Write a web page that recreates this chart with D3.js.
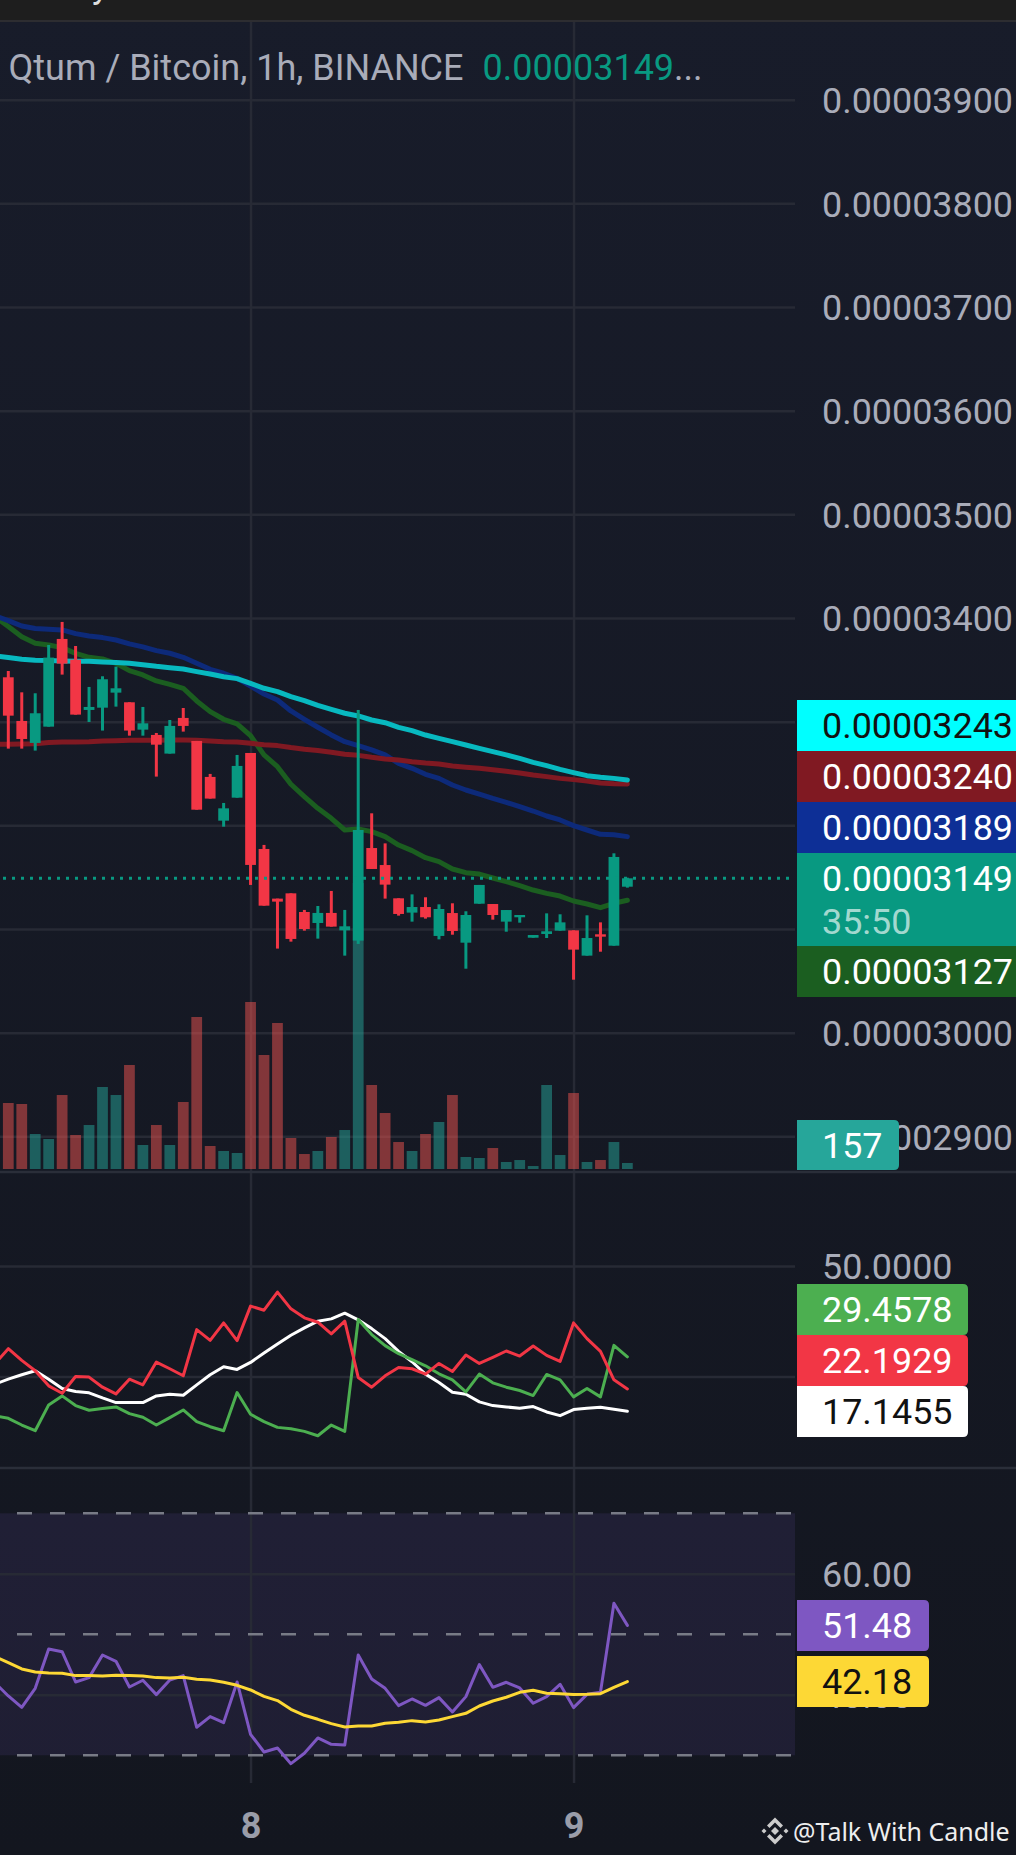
<!DOCTYPE html>
<html>
<head>
<meta charset="utf-8">
<script src="https://cdn.jsdelivr.net/npm/d3@7"></script>
<style>
  html, body { margin: 0; padding: 0; background: #141823; }
  svg { display: block; background: linear-gradient(#181c2a, #13161f); }
  text { font-family: Roboto, sans-serif; }
</style>
</head>
<body>
<script>
// prices are in 1e-8 BTC (satoshi), index 0 = first candle on screen
var opens  = [3342.8,3300.7,3279.5,3295.2,3379.8,3359.8,3311.3,3313.5,3328.0,3318.7,3292.3,3287.2,3269.2,3303.6,3281.4,3246.7,3204.5,3226.7,3269.8,3177.2,3129.3,3134.4,3116.4,3105.8,3115.5,3098.7,3088.8,3178.1,3161.7,3129.6,3115.8,3121.2,3093.3,3115.4,3086.8,3124.4,3124.1,3107.1,3111.3,3091.6,3095.2,3098.4,3098.7,3074.3,3094.9,3083.9,3140.8];
var highs  = [3348.9,3328.3,3327.4,3374.0,3396.2,3373.0,3333.5,3343.8,3353.1,3318.7,3314.2,3289.1,3301.6,3313.2,3281.4,3249.6,3221.6,3267.9,3269.8,3181.1,3129.3,3134.4,3118.4,3122.2,3136.7,3118.4,3311.3,3211.6,3182.6,3129.6,3133.4,3130.6,3123.8,3124.8,3117.1,3142.5,3124.1,3118.3,3113.5,3094.2,3115.1,3114.2,3098.7,3113.2,3106.4,3173.0,3149.5];
var lows   = [3274.0,3274.0,3272.1,3295.2,3345.4,3306.8,3299.7,3291.4,3314.5,3286.5,3286.5,3247.0,3269.2,3290.4,3215.1,3225.8,3198.7,3226.7,3142.5,3122.5,3081.1,3087.8,3098.4,3090.7,3102.3,3074.3,3085.6,3157.9,3129.3,3112.9,3107.1,3110.0,3090.0,3094.5,3061.7,3124.4,3109.0,3097.4,3106.1,3091.6,3091.3,3098.4,3051.1,3074.3,3078.1,3083.9,3139.9];
var closes = [3305.8,3283.3,3308.1,3361.8,3356.0,3306.8,3314.2,3340.9,3332.2,3291.4,3298.4,3277.8,3295.9,3295.9,3215.1,3225.8,3216.4,3257.3,3161.8,3122.5,3126.4,3090.4,3100.0,3115.5,3102.3,3102.6,3195.5,3157.9,3142.8,3114.5,3121.2,3111.3,3119.3,3098.1,3113.5,3142.5,3113.5,3118.3,3113.5,3094.2,3097.8,3106.4,3080.1,3091.3,3092.6,3169.5,3148.9];
var volumes = [1727,1701,916,785,1936,890,1151,2146,1936,2721,628,1151,628,1753,3977,602,471,419,4370,2983,3820,811,392,471,837,1020,7483,2198,1465,706,471,916,1230,1936,314,288,549,183,235,78,2198,366,1988,183,235,706,157];

// indicator lines start one hour earlier than the candles (index -1)
var maGreen  = [3401.3,3391.7,3382.0,3375.6,3374.0,3371.4,3365.9,3362.1,3360.5,3356.3,3349.2,3345.1,3339.3,3336.0,3332.2,3320.0,3309.7,3302.3,3297.8,3286.5,3267.9,3256.6,3239.6,3227.7,3216.4,3206.8,3195.5,3196.5,3193.9,3189.1,3181.0,3175.6,3168.8,3165.0,3157.9,3154.3,3153.0,3149.2,3145.7,3141.8,3137.6,3134.4,3131.8,3127.0,3124.1,3120.6,3124.8,3127.7];
var maBlue   = [3402.0,3397.5,3392.3,3389.8,3389.1,3388.5,3384.9,3382.7,3381.1,3378.8,3375.0,3372.1,3368.5,3366.0,3362.1,3356.3,3350.5,3346.7,3341.8,3334.4,3326.7,3320.9,3310.3,3302.3,3294.6,3287.2,3280.7,3276.9,3272.7,3267.9,3259.8,3255.0,3249.2,3245.3,3238.9,3234.1,3230.2,3226.0,3222.2,3218.0,3213.8,3209.0,3205.2,3199.7,3195.5,3191.3,3191.0,3189.1];
var maCyan   = [3363.4,3361.8,3360.2,3359.2,3358.9,3358.6,3358.2,3358.2,3357.6,3357.0,3356.3,3355.0,3353.4,3352.1,3350.8,3348.3,3346.0,3343.4,3341.5,3337.0,3332.2,3329.0,3324.2,3320.3,3315.8,3311.9,3308.1,3305.5,3301.6,3299.0,3294.5,3291.3,3287.1,3283.9,3280.7,3277.5,3274.3,3271.1,3267.9,3264.6,3260.8,3257.6,3254.0,3250.8,3247.9,3246.3,3245.3,3243.7];
var maMaroon = [3278.2,3278.2,3278.5,3278.8,3279.8,3280.4,3280.4,3280.7,3281.4,3281.7,3282.0,3282.0,3282.0,3282.4,3282.4,3282.0,3281.4,3280.7,3280.4,3279.1,3277.8,3276.9,3275.0,3273.4,3272.1,3270.5,3268.5,3267.5,3265.6,3264.0,3263.0,3261.4,3260.1,3259.2,3257.2,3256.0,3255.0,3253.7,3252.1,3250.5,3248.6,3247.0,3245.3,3244.1,3242.8,3240.8,3240.2,3239.9];

var dmiRed   = [27.89,31.3,28.64,26.3,22.89,21.22,25.0,24.86,22.58,21.07,24.4,23.11,28.27,26.75,25.16,35.61,33.19,37.13,33.11,40.92,40.0,44.1,40.31,38.27,37.28,34.63,37.51,24.78,22.58,25.16,27.05,26.75,25.54,27.96,26.14,29.86,27.96,29.33,30.77,29.63,31.9,29.78,28.42,37.13,33.57,30.69,24.25,22.19];
var dmiGreen = [16.14,15.54,14.02,12.73,18.57,20.61,18.42,17.36,17.74,18.11,16.6,15.77,14.02,15.69,17.43,14.78,13.64,12.73,21.37,16.45,14.78,13.49,13.19,12.58,11.6,14.02,12.58,37.89,34.48,31.98,30.16,28.8,27.43,25.61,24.25,21.52,25.54,23.57,22.58,21.83,20.69,25.46,24.25,20.39,22.28,20.39,32.05,29.46];
var dmiWhite = [23.27,24.4,25.39,26.3,24.4,22.28,21.6,21.3,20.16,19.1,19.1,19.1,20.61,20.99,20.77,23.11,25.39,27.2,26.6,28.19,30.31,32.36,34.33,36.0,37.51,38.04,39.33,37.81,35.84,33.57,30.69,28.34,25.54,23.64,21.45,20.99,19.25,18.42,18.11,17.81,18.19,16.98,16.14,17.51,17.81,18.04,17.58,17.15];

var rsiPurple = [42.01,39.81,37.93,41.07,47.58,47.13,42.12,42.84,46.58,45.54,41.29,42.4,40.03,42.45,43.17,34.63,36.39,35.4,42.12,33.47,30.55,31.21,28.62,30.33,32.87,31.82,31.71,46.58,42.62,41.07,38.21,39.31,38.26,39.53,37.16,39.7,44.99,41.24,42.07,41.13,38.6,39.7,41.74,37.88,40.08,40.41,55.12,51.48];
var rsiYellow = [46.31,45.32,44.27,43.77,43.61,43.55,43.17,43.17,43.11,43.22,43.17,43.11,42.84,42.78,42.89,42.56,42.45,42.07,41.57,40.8,39.75,39.04,37.6,36.61,35.95,35.23,34.68,34.85,34.85,35.29,35.45,35.73,35.51,35.84,36.39,36.94,38.15,38.98,39.59,40.41,40.74,40.25,40.19,40.03,40.08,40.19,41.24,42.18];

var priceTicks = [3900,3800,3700,3600,3500,3400,3300,3200,3100,3000,2900];
var dmiTicks   = [50,25];
var rsiTicks   = [60,40];
var rsiDashes  = [70,50,30];
var dayTicks   = [18,42];
var dayLabels  = ["8","9"];
// these tick values sit fully behind the value labels, only the grid line is left
var coveredTicks = [3300,3200,3100,25];

var W = 1016, H = 1855;
var plotRight = 795;
var red = "#f23645", green = "#089981";
var gridColor = "#272a35";
var axisFont = 35.9;

var svg = d3.select("body").append("svg").attr("width", W).attr("height", H);

// scales
var x      = d3.scaleLinear().domain([0,24]).range([8.3,331.3]);
var yPrice = d3.scaleLinear().domain([3400,3100]).range([618,929]);
var yVol   = d3.scaleLinear().domain([0,7483]).range([1169,883]);
var yDmi   = d3.scaleLinear().domain([50,25]).range([1266,1376.5]);
var yRsi   = d3.scaleLinear().domain([70,30]).range([1513.3,1755.3]);

var step = x(1)-x(0);
var bodyW = step*0.8;

// top bar
svg.append("rect").attr("width",W).attr("height",20).attr("fill","#1e1e1e");
svg.append("rect").attr("y",20).attr("width",W).attr("height",2).attr("fill","#2d2d31");
svg.append("text").attr("x",92).attr("y",-3).attr("font-size",36).attr("fill","#dddddd").text("y");

// rsi band
svg.append("rect").attr("x",0).attr("width",plotRight)
   .attr("y",yRsi(70)).attr("height",yRsi(30)-yRsi(70))
   .attr("fill","#7e57c2").attr("fill-opacity",0.12);

// axes + grid
function yAxis(scale, ticks, fmt)
{
  var g = svg.append("g").attr("transform","translate("+plotRight+",0)")
             .call(d3.axisRight(scale).tickValues(ticks)
                     .tickFormat(function(d){ return coveredTicks.indexOf(d)>=0 ? "" : fmt(d); })
                     .tickSizeInner(-plotRight).tickSizeOuter(0).tickPadding(27));
  g.select(".domain").remove();
  g.selectAll("line").attr("stroke",gridColor).attr("stroke-width",2.5);
  g.selectAll("text").attr("fill","#a9acb9").attr("font-size",axisFont).attr("dy",".355em").attr("font-family","Roboto, sans-serif");
}
yAxis(yPrice, priceTicks, function(d){ return (d/1e8).toFixed(8); });
yAxis(yDmi,   dmiTicks,   function(d){ return d.toFixed(4); });
yAxis(yRsi,   rsiTicks,   function(d){ return d.toFixed(2); });

var xAxisG = svg.append("g").attr("transform","translate(0,1783)")
   .call(d3.axisBottom(x).tickValues(dayTicks).tickFormat(function(d,i){ return dayLabels[i]; })
           .tickSizeInner(-1761).tickSizeOuter(0).tickPadding(29));
xAxisG.select(".domain").remove();
xAxisG.selectAll("line").attr("stroke",gridColor).attr("stroke-width",2.5);
xAxisG.selectAll("text").attr("fill","#9a9da9").attr("font-size",36).attr("font-weight",700).attr("font-family","Roboto, sans-serif");

// pane separators
[1172,1468].forEach(function(py){
  svg.append("line").attr("x1",0).attr("x2",W).attr("y1",py).attr("y2",py)
     .attr("stroke","#2a2e39").attr("stroke-width",2.5);
});

// rsi dashed levels
svg.selectAll(".rsiDash").data(rsiDashes).enter().append("line")
   .attr("x1",17).attr("x2",plotRight)
   .attr("y1",function(d){ return yRsi(d); }).attr("y2",function(d){ return yRsi(d); })
   .attr("stroke","#787b86").attr("stroke-width",2.5).attr("stroke-dasharray","15 18");

// volume
svg.selectAll(".vol").data(volumes).enter().append("rect")
   .attr("x",function(d,i){ return x(i)-bodyW/2; })
   .attr("width",bodyW)
   .attr("y",function(d){ return yVol(d); })
   .attr("height",function(d){ return yVol(0)-yVol(d); })
   .attr("fill",function(d,i){ return closes[i]>=opens[i] ? "#26a69a" : "#ef5350"; })
   .attr("fill-opacity",0.5);

// moving averages
function drawLine(values, scale, color, width)
{
  var line = d3.line().x(function(d,i){ return x(i-1); }).y(function(d){ return scale(d); });
  svg.append("path").datum(values).attr("d",line).attr("fill","none")
     .attr("stroke",color).attr("stroke-width",width).attr("stroke-linejoin","round").attr("stroke-linecap","round");
}
drawLine(maGreen,  yPrice, "#1b5e20", 5);
drawLine(maBlue,   yPrice, "#0d2a7a", 5);
drawLine(maMaroon, yPrice, "#801922", 5);
drawLine(maCyan,   yPrice, "#08b9c0", 5);

// candles
var candles = svg.selectAll(".candle").data(opens).enter().append("g");
candles.append("line")
   .attr("x1",function(d,i){ return x(i); }).attr("x2",function(d,i){ return x(i); })
   .attr("y1",function(d,i){ return yPrice(highs[i]); }).attr("y2",function(d,i){ return yPrice(lows[i]); })
   .attr("stroke-width",3)
   .attr("stroke",function(d,i){ return closes[i]>=opens[i] ? green : red; });
candles.append("rect")
   .attr("x",function(d,i){ return x(i)-bodyW/2; }).attr("width",bodyW)
   .attr("y",function(d,i){ return yPrice(Math.max(opens[i],closes[i])); })
   .attr("height",function(d,i){ return Math.max(2,Math.abs(yPrice(opens[i])-yPrice(closes[i]))); })
   .attr("fill",function(d,i){ return closes[i]>=opens[i] ? green : red; });

// last price line
svg.append("line").attr("x1",3).attr("x2",plotRight)
   .attr("y1",yPrice(3149)).attr("y2",yPrice(3149))
   .attr("stroke",green).attr("stroke-width",3).attr("stroke-dasharray","3 6");

// dmi + rsi
drawLine(dmiWhite, yDmi, "#ffffff", 3);
drawLine(dmiGreen, yDmi, "#4caf50", 3);
drawLine(dmiRed,   yDmi, red,       3);
drawLine(rsiPurple, yRsi, "#7e57c2", 3);
drawLine(rsiYellow, yRsi, "#fdd835", 3);

// title
var title = svg.append("text").attr("x",8.5).attr("y",80).attr("font-size",36).attr("xml:space","preserve");
title.append("tspan").attr("fill","#a9acb9").text("Qtum / Bitcoin, 1h, BINANCE");
title.append("tspan").attr("fill",green).attr("dx",19).text("0.00003149");
title.append("tspan").attr("fill","#a9acb9").text("...");

// axis value labels
function labelBox(y0, y1, right, rounded, fill, txt, color)
{
  var r = rounded ? 5 : 0, left = 797;
  svg.append("path").attr("fill",fill)
     .attr("d","M"+left+","+y0+"H"+(right-r)+"Q"+right+","+y0+" "+right+","+(y0+r)+"V"+(y1-r)+"Q"+right+","+y1+" "+(right-r)+","+y1+"H"+left+"Z");
  svg.append("text").attr("x",822).attr("y",y0+25.5).attr("dy",".355em")
     .attr("font-size",axisFont).attr("fill",color).text(txt);
}
labelBox(700,751,W,false,"#00ffff","0.00003243","#111111");
labelBox(751,802,W,false,"#801922","0.00003240","#ffffff");
labelBox(802,853,W,false,"#0d2f96","0.00003189","#ffffff");
labelBox(853,946,W,false,green,"0.00003149","#ffffff");
svg.append("text").attr("x",822).attr("y",921).attr("dy",".355em").attr("font-size",axisFont)
   .attr("fill","#ffffff").attr("fill-opacity",0.65).text("35:50");
labelBox(946,997,W,false,"#1b5e20","0.00003127","#ffffff");
labelBox(1120,1170,899,true,"#26a69a","157","#ffffff");
labelBox(1284,1335,968,true,"#4caf50","29.4578","#ffffff");
labelBox(1335,1386,968,true,red,"22.1929","#ffffff");
labelBox(1386,1437,968,true,"#ffffff","17.1455","#111111");
labelBox(1600,1651,929,true,"#7e57c2","51.48","#ffffff");
labelBox(1656,1707,929,true,"#fdd835","42.18","#111111");

// watermark
var logo = svg.append("g").attr("transform","translate(775,1831)").attr("fill","#cccccc");
logo.append("path").attr("d","M0,-4 L4,0 L0,4 L-4,0Z");
logo.append("path").attr("d","M-11,-2.5 L-8.5,0 L-11,2.5 L-13.5,0Z");
logo.append("path").attr("d","M11,-2.5 L13.5,0 L11,2.5 L8.5,0Z");
logo.append("path").attr("d","M0,-13.5 L8,-5.5 L5.5,-3 L0,-8.5 L-5.5,-3 L-8,-5.5Z");
logo.append("path").attr("d","M0,13.5 L8,5.5 L5.5,3 L0,8.5 L-5.5,3 L-8,5.5Z");
svg.append("text").attr("x",793).attr("y",1841).attr("font-size",25).attr("fill","#eeeeee")
   .attr("style","font-family:'Noto Sans',sans-serif").text("@Talk With Candle");
</script>
</body>
</html>
